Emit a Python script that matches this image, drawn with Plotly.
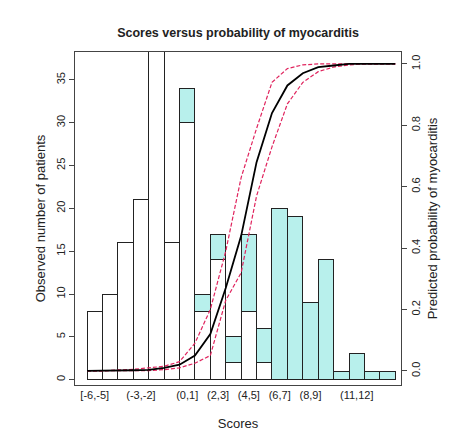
import plotly.graph_objects as go

# score bins [-6,-5], (-5,-4], ... (13,14]
lower = list(range(-6, 14))
bin_labels = ["[-6,-5]"] + ["(%d,%d]" % (a, a + 1) for a in lower[1:]]
no_myo = [8, 10, 16, 21, 40, 16, 30, 8, 14, 2, 8, 2, 0, 0, 0, 0, 0, 0, 0, 0]
myo = [0, 0, 0, 0, 0, 0, 4, 2, 3, 3, 9, 4, 20, 19, 9, 14, 1, 3, 1, 1]

# predicted probability at bin edges
prob = [0, 0, 0, 0.002, 0.003, 0.01, 0.02, 0.05, 0.12, 0.27, 0.44, 0.68, 0.84,
        0.93, 0.97, 0.99, 0.995, 1, 1, 1, 1]
upper = [0, 0, 0.003, 0.005, 0.01, 0.015, 0.03, 0.09, 0.2, 0.39, 0.63, 0.79, 0.94,
         0.985, 0.997, 1, 1, 1, 1, 1, 1]
lower_ci = [0, 0, 0, 0, 0.001, 0.004, 0.01, 0.025, 0.05, 0.23, 0.32, 0.57, 0.73,
            0.87, 0.94, 0.975, 0.99, 0.997, 1, 1, 1]

shown = [0, 3, 6, 8, 10, 12, 14, 17]
centers = [i + 0.5 for i in range(len(bin_labels))]
edges = list(range(len(bin_labels) + 1))

fig = go.Figure()
fig.add_trace(go.Bar(x=centers, y=no_myo, width=1, marker=dict(color="white", line=dict(color="#222", width=1))))
fig.add_trace(go.Bar(x=centers, y=myo, width=1, marker=dict(color="#b8f0ec", line=dict(color="#222", width=1))))
fig.add_trace(go.Scatter(x=edges, y=upper, yaxis="y2", mode="lines", line=dict(color="#e0245e", width=1.2, dash="4px,2px")))
fig.add_trace(go.Scatter(x=edges, y=lower_ci, yaxis="y2", mode="lines", line=dict(color="#e0245e", width=1.2, dash="4px,2px")))
fig.add_trace(go.Scatter(x=edges, y=prob, yaxis="y2", mode="lines", line=dict(color="black", width=1.8)))

fig.update_layout(
    width=474, height=445, barmode="stack", showlegend=False,
    plot_bgcolor="white", paper_bgcolor="white",
    margin=dict(l=67, r=81, t=44, b=68),
    font=dict(family="Liberation Sans, Arial", size=11, color="#222"),
    title=dict(text="<b>Scores versus probability of myocarditis</b>", x=0.5, xref="paper", y=0.955, font=dict(size=12.5)),
    xaxis=dict(range=[-0.78, 20.37], tickvals=[centers[i] for i in shown], ticktext=[bin_labels[i] for i in shown],
               tickangle=0, ticks="", showgrid=False, zeroline=False, showline=True, mirror=True,
               linecolor="#444", title=dict(text="Scores", standoff=18)),
    yaxis=dict(range=[-0.62, 38.25], tickvals=list(range(0, 40, 5)), tickangle=-90, ticks="outside", ticklen=5,
               showgrid=False, zeroline=False, showline=True, linecolor="#444",
               title=dict(text="Observed number of patients", standoff=6)),
    yaxis2=dict(overlaying="y", side="right", range=[-0.046, 1.039], tickvals=[0, 0.2, 0.4, 0.6, 0.8, 1.0],
                ticktext=["0.0", "0.2", "0.4", "0.6", "0.8", "1.0"], tickangle=-90, ticks="outside", ticklen=5,
                showgrid=False, zeroline=False, showline=True, linecolor="#444",
                title=dict(text="Predicted probability of myocarditis", standoff=6)),
)
fig.write_html("out.html")
